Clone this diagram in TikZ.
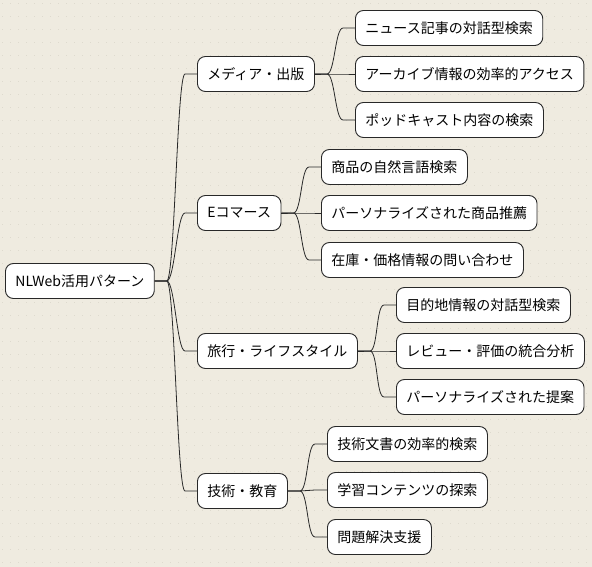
\documentclass[tikz,border=0pt]{standalone}
\usepackage{fontspec}
\setmainfont{Noto Sans CJK JP}
\usepackage{tikz}
\usetikzlibrary{calc}
\definecolor{paper}{RGB}{239,235,224}
\definecolor{speck}{RGB}{222,218,206}
\definecolor{ink}{RGB}{40,40,40}
\tikzset{
  topic/.style={draw=ink,fill=white,rounded corners=8pt,line width=0.9pt,
    inner xsep=10pt,minimum height=35pt,anchor=west,
    font=\fontsize{14}{16}\selectfont},
  branch/.style={draw=ink,line width=0.8pt}
}
% parent east -> short stub -> S-curve -> short stub -> child west
\newcommand{\twig}[2]{%
  \draw[branch] (#1.east) -- ++(12pt,0)
    .. controls +(8pt,0) and +(-8pt,0) .. ($(#2.west)+(-12pt,0)$) -- (#2.west);}

\begin{document}
\begin{tikzpicture}[x=1pt,y=-1pt]
  \fill[paper] (0,0) rectangle (592,567);
  \useasboundingbox (0,0) rectangle (592,567);
  % faint dotted paper
  \foreach \j in {0,...,43}{%
    \foreach \i in {0,...,73}{%
      \fill[speck] (2+8*\i,3+13*\j) rectangle ++(1.2,1.2);
    }
  }
  % root
  \node[topic] (root) at (5,281) {NLWeb活用パターン};
  % main branches
  \node[topic] (media)  at (197,74)  {メディア・出版};
  \node[topic] (ecom)   at (197,213) {Eコマース};
  \node[topic] (travel) at (197,351) {旅行・ライフスタイル};
  \node[topic] (tech)   at (197,491) {技術・教育};
  % leaves
  \node[topic] (news)    at (355,28)  {ニュース記事の対話型検索};
  \node[topic] (archive) at (355,74)  {アーカイブ情報の効率的アクセス};
  \node[topic] (podcast) at (355,120) {ポッドキャスト内容の検索};
  \node[topic] (goods)   at (321,167) {商品の自然言語検索};
  \node[topic] (recomm)  at (321,213) {パーソナライズされた商品推薦};
  \node[topic] (stock)   at (321,260) {在庫・価格情報の問い合わせ};
  \node[topic] (dest)    at (396,305) {目的地情報の対話型検索};
  \node[topic] (review)  at (396,351) {レビュー・評価の統合分析};
  \node[topic] (suggest) at (396,397) {パーソナライズされた提案};
  \node[topic] (docs)    at (327,444) {技術文書の効率的検索};
  \node[topic] (learn)   at (327,490) {学習コンテンツの探索};
  \node[topic] (solve)   at (327,537) {問題解決支援};
  % connectors
  \foreach \p/\c in {root/media,root/ecom,root/travel,root/tech,
      media/news,media/archive,media/podcast,
      ecom/goods,ecom/recomm,ecom/stock,
      travel/dest,travel/review,travel/suggest,
      tech/docs,tech/learn,tech/solve}{%
    \twig{\p}{\c}
  }
\end{tikzpicture}
\end{document}
